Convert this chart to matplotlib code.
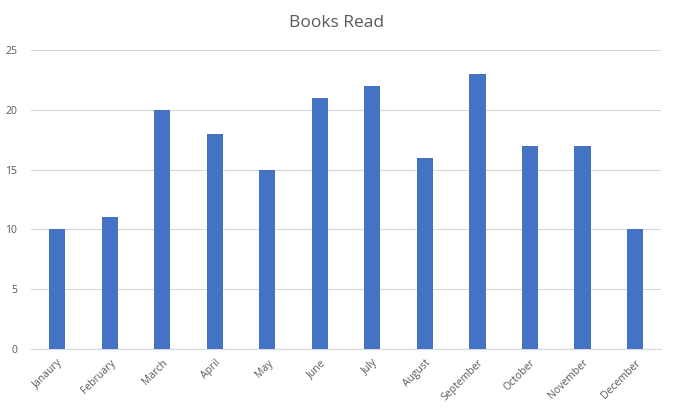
import matplotlib.pyplot as plt

# Data buku yang dibaca per bulan
bulan = ["Janaury", "February", "March", "April", "May", "June",
         "July", "August", "September", "October", "November", "December"]
jumlah_buku = [10, 11, 20, 18, 15, 21, 22, 16, 23, 17, 17, 10]
y_ticks = [0, 5, 10, 15, 20, 25]

plt.rcParams["font.family"] = ["Open Sans", "DejaVu Sans"]

fig = plt.figure(figsize=(6.74, 4.13), dpi=100)
ax = fig.add_axes([0.046, 0.155, 0.935, 0.724])

x = range(len(bulan))
ax.bar(x, jumlah_buku, width=0.31, color="#4472C4", zorder=3)

ax.set_xlim(-0.5, len(bulan) - 0.5)
ax.set_ylim(0, 25)
ax.set_yticks(y_ticks)
ax.set_xticks(list(x))
ax.set_xticklabels(bulan, rotation=45, ha="right", rotation_mode="anchor")

ax.grid(axis="y", color="#D9D9D9", linewidth=0.8, zorder=0)
for side in ["top", "right", "left"]:
    ax.spines[side].set_visible(False)
ax.spines["bottom"].set_color("#D9D9D9")
ax.tick_params(axis="both", length=0, labelsize=7.5, colors="#595959")
ax.tick_params(axis="y", pad=10)
ax.tick_params(axis="x", pad=6)

fig.text(0.5, 0.945, "Books Read", ha="center", va="center", fontsize=12.5, color="#595959")

fig.savefig("out.png", dpi=100)
